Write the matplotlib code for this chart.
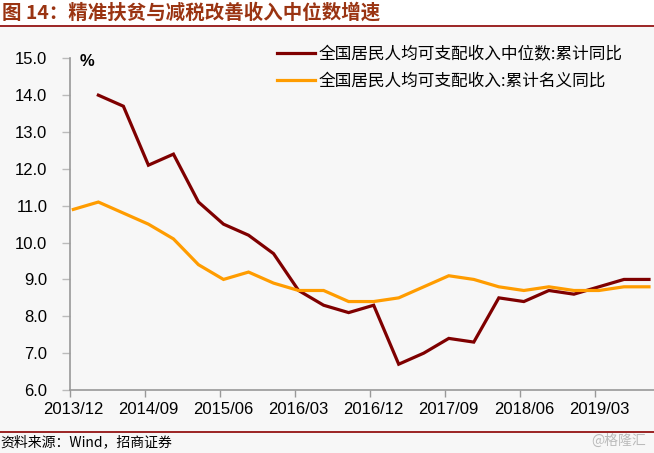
import matplotlib.pyplot as plt
import matplotlib.patches as mpatches
import numpy as np

# quarterly, 2013/12 .. 2019/09
quarters = ['2013/12', '2014/03', '2014/06', '2014/09', '2014/12', '2015/03', '2015/06', '2015/09',
            '2015/12', '2016/03', '2016/06', '2016/09', '2016/12', '2017/03', '2017/06', '2017/09',
            '2017/12', '2018/03', '2018/06', '2018/09', '2018/12', '2019/03', '2019/06', '2019/09']
median_yoy = [np.nan, 14.0, 13.7, 12.1, 12.4, 11.1, 10.5, 10.2, 9.7, 8.7, 8.3, 8.1,
              8.3, 6.7, 7.0, 7.4, 7.3, 8.5, 8.4, 8.7, 8.6, 8.8, 9.0, 9.0]
nominal_yoy = [10.9, 11.1, 10.8, 10.5, 10.1, 9.4, 9.0, 9.2, 8.9, 8.7, 8.7, 8.4,
               8.4, 8.5, 8.8, 9.1, 9.0, 8.8, 8.7, 8.8, 8.7, 8.7, 8.8, 8.8]
label_median = '全国居民人均可支配收入中位数:累计同比'
label_nominal = '全国居民人均可支配收入:累计名义同比'

plt.rcParams['font.family'] = ['Liberation Sans', 'Noto Sans CJK SC', 'DejaVu Sans']

W, H = 654, 453
fig = plt.figure(figsize=(W / 100, H / 100), dpi=100)
fig.patch.set_facecolor('white')
fig.patches.append(mpatches.Rectangle((0, 0), 1, 1 - 27 / H, transform=fig.transFigure,
                                      facecolor='#f7f7f7', edgecolor='none', zorder=-10))

ax = fig.add_axes([69.7 / W, 1 - 390 / H, (W - 69.7) / W, (390 - 58.3) / H])
ax.set_facecolor('none')

x = np.arange(len(quarters))
ax.plot(x, median_yoy, color='#7f0000', lw=2.3, label=label_median, solid_joinstyle='miter')
ax.plot(x, nominal_yoy, color='#ff9c00', lw=2.3, label=label_nominal, solid_joinstyle='miter')

ax.set_ylim(6, 15)
ax.set_xlim(-0.145, 23.2)
ax.set_yticks(np.arange(6, 15.1, 1))
ax.set_yticklabels([f'{v:.1f}' for v in np.arange(6, 15.1, 1)])
ax.set_xticks(x[::3])
ax.set_xticklabels(quarters[::3])
ax.set_xticks(x[::3] - 0.145, minor=True)
ax.tick_params(axis='x', which='major', length=0, pad=9, labelsize=12)
ax.tick_params(axis='x', which='minor', length=5, color='#999999', width=1)
ax.tick_params(axis='y', length=6, color='#bbbbbb', width=1, pad=10, labelsize=12)

for s in ['top', 'right']:
    ax.spines[s].set_visible(False)
for s in ['left', 'bottom']:
    ax.spines[s].set_color('#999999')
    ax.spines[s].set_linewidth(1.2)

ax.text(80 / W, 1 - 61 / H, '%', transform=fig.transFigure, fontsize=12, fontweight='bold',
        ha='left', va='center')

leg = ax.legend(loc='upper left', bbox_to_anchor=(262 / W, 1 - 31 / H), bbox_transform=fig.transFigure,
                frameon=False, handlelength=2.3, handletextpad=0.2, labelspacing=0.6,
                prop={'family': ['Noto Sans CJK SC'], 'size': 12})

# title and footer
fig.text(2 / W, 1 - 13 / H, '图 14：精准扶贫与减税改善收入中位数增速', fontsize=14, fontweight='bold',
         color='#9a3412', family=['Noto Sans CJK SC'], ha='left', va='center')
fig.add_artist(plt.Line2D([0, 1], [1 - 26 / H, 1 - 26 / H], color='#8b0000', lw=1.2))
fig.add_artist(plt.Line2D([0, 1], [1 - 432 / H, 1 - 432 / H], color='#8b0000', lw=1.2))
fig.text(0, 1 - 442 / H, '资料来源：Wind，招商证券', fontsize=10, family=['Noto Sans CJK SC'],
         ha='left', va='center')
fig.text(646 / W, 1 - 441 / H, '@格隆汇', fontsize=10, family=['Noto Sans CJK SC'], color='#bbbbbb',
         ha='right', va='center')

fig.savefig('out.png', dpi=100)
